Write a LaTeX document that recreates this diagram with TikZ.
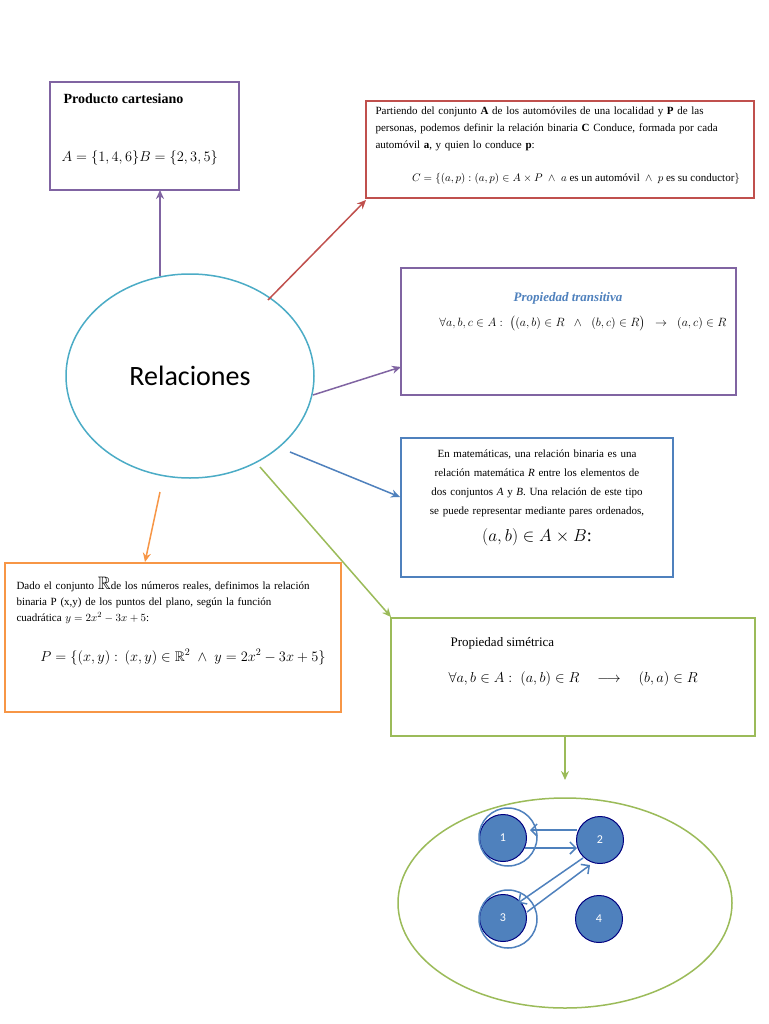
\documentclass[tikz,border=0pt]{standalone}
\usepackage{fontspec}
\setmainfont{Liberation Serif}
\newfontfamily\calib{Carlito}
\usepackage{amsmath,amssymb}
\usetikzlibrary{shapes.geometric,arrows.meta}
\hyphenpenalty=10000
\begin{document}
\begin{tikzpicture}[x=1pt,y=-1pt,
 box/.style={draw=#1,line width=1.5pt,inner sep=0pt},
 arr/.style={draw=#1,line width=1.5pt,-{Stealth[length=9pt,width=8pt]}},
 gn/.style={circle,draw=blue!50!black,text=white,minimum size=47pt,inner sep=0pt,font=\calib\fontsize{12}{12}\selectfont,line width=1pt},
 ga/.style={draw=nfill,line width=1.5pt,-{Straight Barb[length=6pt]}},
 txt/.style={font=\fontsize{11}{17}\selectfont,align=left}]
\definecolor{pur}{RGB}{128,100,162}
\definecolor{red1}{RGB}{192,80,77}
\definecolor{blu}{RGB}{79,129,189}
\definecolor{ora}{RGB}{247,150,70}
\definecolor{grn}{RGB}{155,187,89}
\definecolor{cya}{RGB}{75,172,198}
\definecolor{nfill}{RGB}{79,129,189}
\useasboundingbox (0,0) rectangle (768,1024);
\fill[white] (0,0) rectangle (768,1024);
% central ellipse
\node[draw=cya,line width=1.5pt,ellipse,minimum width=248pt,minimum height=204pt,font=\calib\fontsize{28}{30}\selectfont] (rel) at (190,376) {Relaciones};
% boxes
\draw[box=pur] (50,82) rectangle (239,190); \coordinate (pc) at (160,190);
\node[anchor=north west,font=\bfseries\fontsize{14}{16}\selectfont] (pct) at (60,90) {Producto cartesiano};
\node[anchor=west,font=\fontsize{14}{16}\selectfont] (pcf) at (58,158) {$A=\{1,4,6\}B=\{2,3,5\}$};
\draw[box=red1] (366,101) rectangle (754,198);
\node[anchor=north west,txt,text width=368pt] (rt) at (372,103) {Partiendo del conjunto \textbf{A} de los automóviles de una localidad y \textbf{P} de las personas, podemos definir la relación binaria \textbf{C} Conduce, formada por cada automóvil \textbf{a}, y quien lo conduce \textbf{p}:};
\node[font=\fontsize{11}{13}\selectfont] (rf) at (576,179) {$C=\{(a,p):(a,p)\in A\times P\;\wedge\;a\text{ es un automóvil }\wedge\;p\text{ es su conductor}\}$};
\draw[box=pur] (401,268) rectangle (736,395);
\node[font=\bfseries\itshape\fontsize{13}{14}\selectfont,text=blu] (tt) at (568,298) {Propiedad transitiva};
\node[font=\fontsize{12.5}{13}\selectfont] (tf) at (583,323) {$\forall a,b,c\in A:\;\bigl((a,b)\in R\;\;\wedge\;\;(b,c)\in R\bigr)\;\;\rightarrow\;\;(a,c)\in R$};
\draw[box=blu] (401,438) rectangle (673,577);
\node[txt,font=\fontsize{11}{19}\selectfont,align=center,text width=265pt,anchor=north] (bt) at (537,446) {En matemáticas, una relación binaria es una relación matemática \textit{R} entre los elementos de dos conjuntos \textit{A} y \textit{B}. Una relación de este tipo se puede representar mediante pares ordenados,};
\node[font=\fontsize{18}{20}\selectfont] (bf) at (537,537) {$(a,b)\in A\times B$:};
\draw[box=ora] (5,563) rectangle (341,712);
\node[anchor=north west,txt,font=\fontsize{11}{16}\selectfont,text width=300pt] (ot) at (13,574) {Dado el conjunto {\fontsize{18}{14}\selectfont$\mathbb{R}$}de los números reales, definimos la relación binaria P (x,y) de los puntos del plano, según la función cuadrática $y=2x^2-3x+5$:};
\node[font=\fontsize{14}{16}\selectfont] (of) at (183,657) {$P=\{(x,y):\,(x,y)\in\mathbb{R}^2\;\wedge\;y=2x^2-3x+5\}$};
\draw[box=grn] (391,618) rectangle (755,736);
\node[anchor=west,font=\fontsize{13}{14}\selectfont] (st) at (447,643) {Propiedad simétrica};
\node[anchor=west,font=\fontsize{14}{16}\selectfont] (sf) at (445,679) {$\forall a,b\in A:\;(a,b)\in R\quad\longrightarrow\quad(b,a)\in R$};
% arrows
\draw[arr=pur] (160,276) -- (pc);
\draw[arr=red1] (268,300) -- (366,200);
\draw[arr=pur] (313,395) -- (401,367);
\draw[arr=blu] (290,452) -- (400,497);
\draw[arr=ora] (160,492) -- (145,562);
\draw[arr=grn] (260,467) -- (391,617);
\draw[arr=grn] (565,737) -- (565,780);
% graph
\node[draw=grn,line width=1.5pt,ellipse,minimum width=334pt,minimum height=210pt] (ge) at (565,903) {};
\node[gn,fill=nfill] (n1) at (503,838) {1};
\node[gn,fill=nfill] (n2) at (600,840) {2};
\node[gn,fill=nfill] (n3) at (503,918) {3};
\node[gn,fill=nfill] (n4) at (599,919) {4};
\draw[ga] (577,830) -- (530,830);
\draw[ga] (525,848) -- (577,848);
\draw[ga] (583,858) -- (518,903);
\draw[ga] (527,912) -- (590,865);
\draw[draw=nfill,line width=1.5pt] (508,837) circle (29);
\draw[draw=nfill,line width=1.5pt] (508,919) circle (29);
\end{tikzpicture}
\end{document}
